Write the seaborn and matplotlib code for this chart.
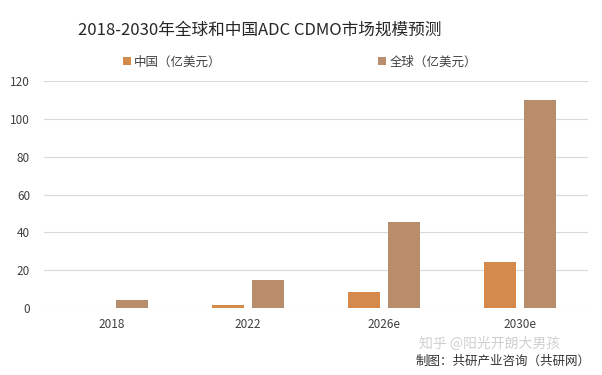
import matplotlib
matplotlib.use("Agg")
import matplotlib.pyplot as plt
import seaborn as sns
import pandas as pd

years = ["2018", "2022", "2026e", "2030e"]
china = [0, 1.7, 8.2, 24.3]
world = [4.4, 14.8, 45.5, 110]
series_names = ["中国（亿美元）", "全球（亿美元）"]
colors = ["#D48A4A", "#B98D6B"]

df = pd.DataFrame({
    "year": years * 2,
    "value": china + world,
    "series": [series_names[0]] * 4 + [series_names[1]] * 4,
})

sns.set_theme(style="white")
plt.rcParams['font.family'] = ['Noto Sans CJK SC', 'DejaVu Sans']

fig = plt.figure(figsize=(6.02, 3.75), dpi=100)
ax = fig.add_axes([44/602, 1-308/375, (588-44)/602, (308-81)/375])

sns.barplot(data=df, x="year", y="value", hue="series", palette=colors,
            width=0.59, gap=0.22, saturation=1, linewidth=0, edgecolor="none",
            ax=ax, legend=True)

ax.set_ylim(0, 120)
ax.set_yticks(range(0, 121, 20))
ax.set_xlim(-0.5, 3.5)
ax.yaxis.grid(True, color="#D9D9D9", linewidth=0.8)
ax.set_axisbelow(True)
for s in ax.spines.values():
    s.set_visible(False)
ax.set_xlabel("")
ax.set_ylabel("")
ax.tick_params(axis="both", length=0, labelsize=8.5, colors="#404040")
ax.tick_params(axis="y", pad=10)
ax.tick_params(axis="x", pad=7)

leg = ax.legend(loc="center left", bbox_to_anchor=(118/602, 1-62/375),
                bbox_transform=fig.transFigure, ncol=2,
                frameon=False, fontsize=9, handlelength=0.6, handleheight=0.6,
                columnspacing=12.5, handletextpad=0.3, borderaxespad=0)
for t in leg.get_texts():
    t.set_color("#404040")

fig.text(260/602, 1-30/375, "2018-2030年全球和中国ADC CDMO市场规模预测", ha="center",
         va="center", fontsize=12, color="#262626")
fig.text(490/602, 1-344/375, "知乎 @阳光开朗大男孩", ha="center", va="center",
         fontsize=10, color="#d0d0d0")
fig.text(503/602, 1-361/375, "制图：共研产业咨询（共研网）", ha="center", va="center",
         fontsize=9, color="#333333")

fig.savefig("out.png", dpi=100)
